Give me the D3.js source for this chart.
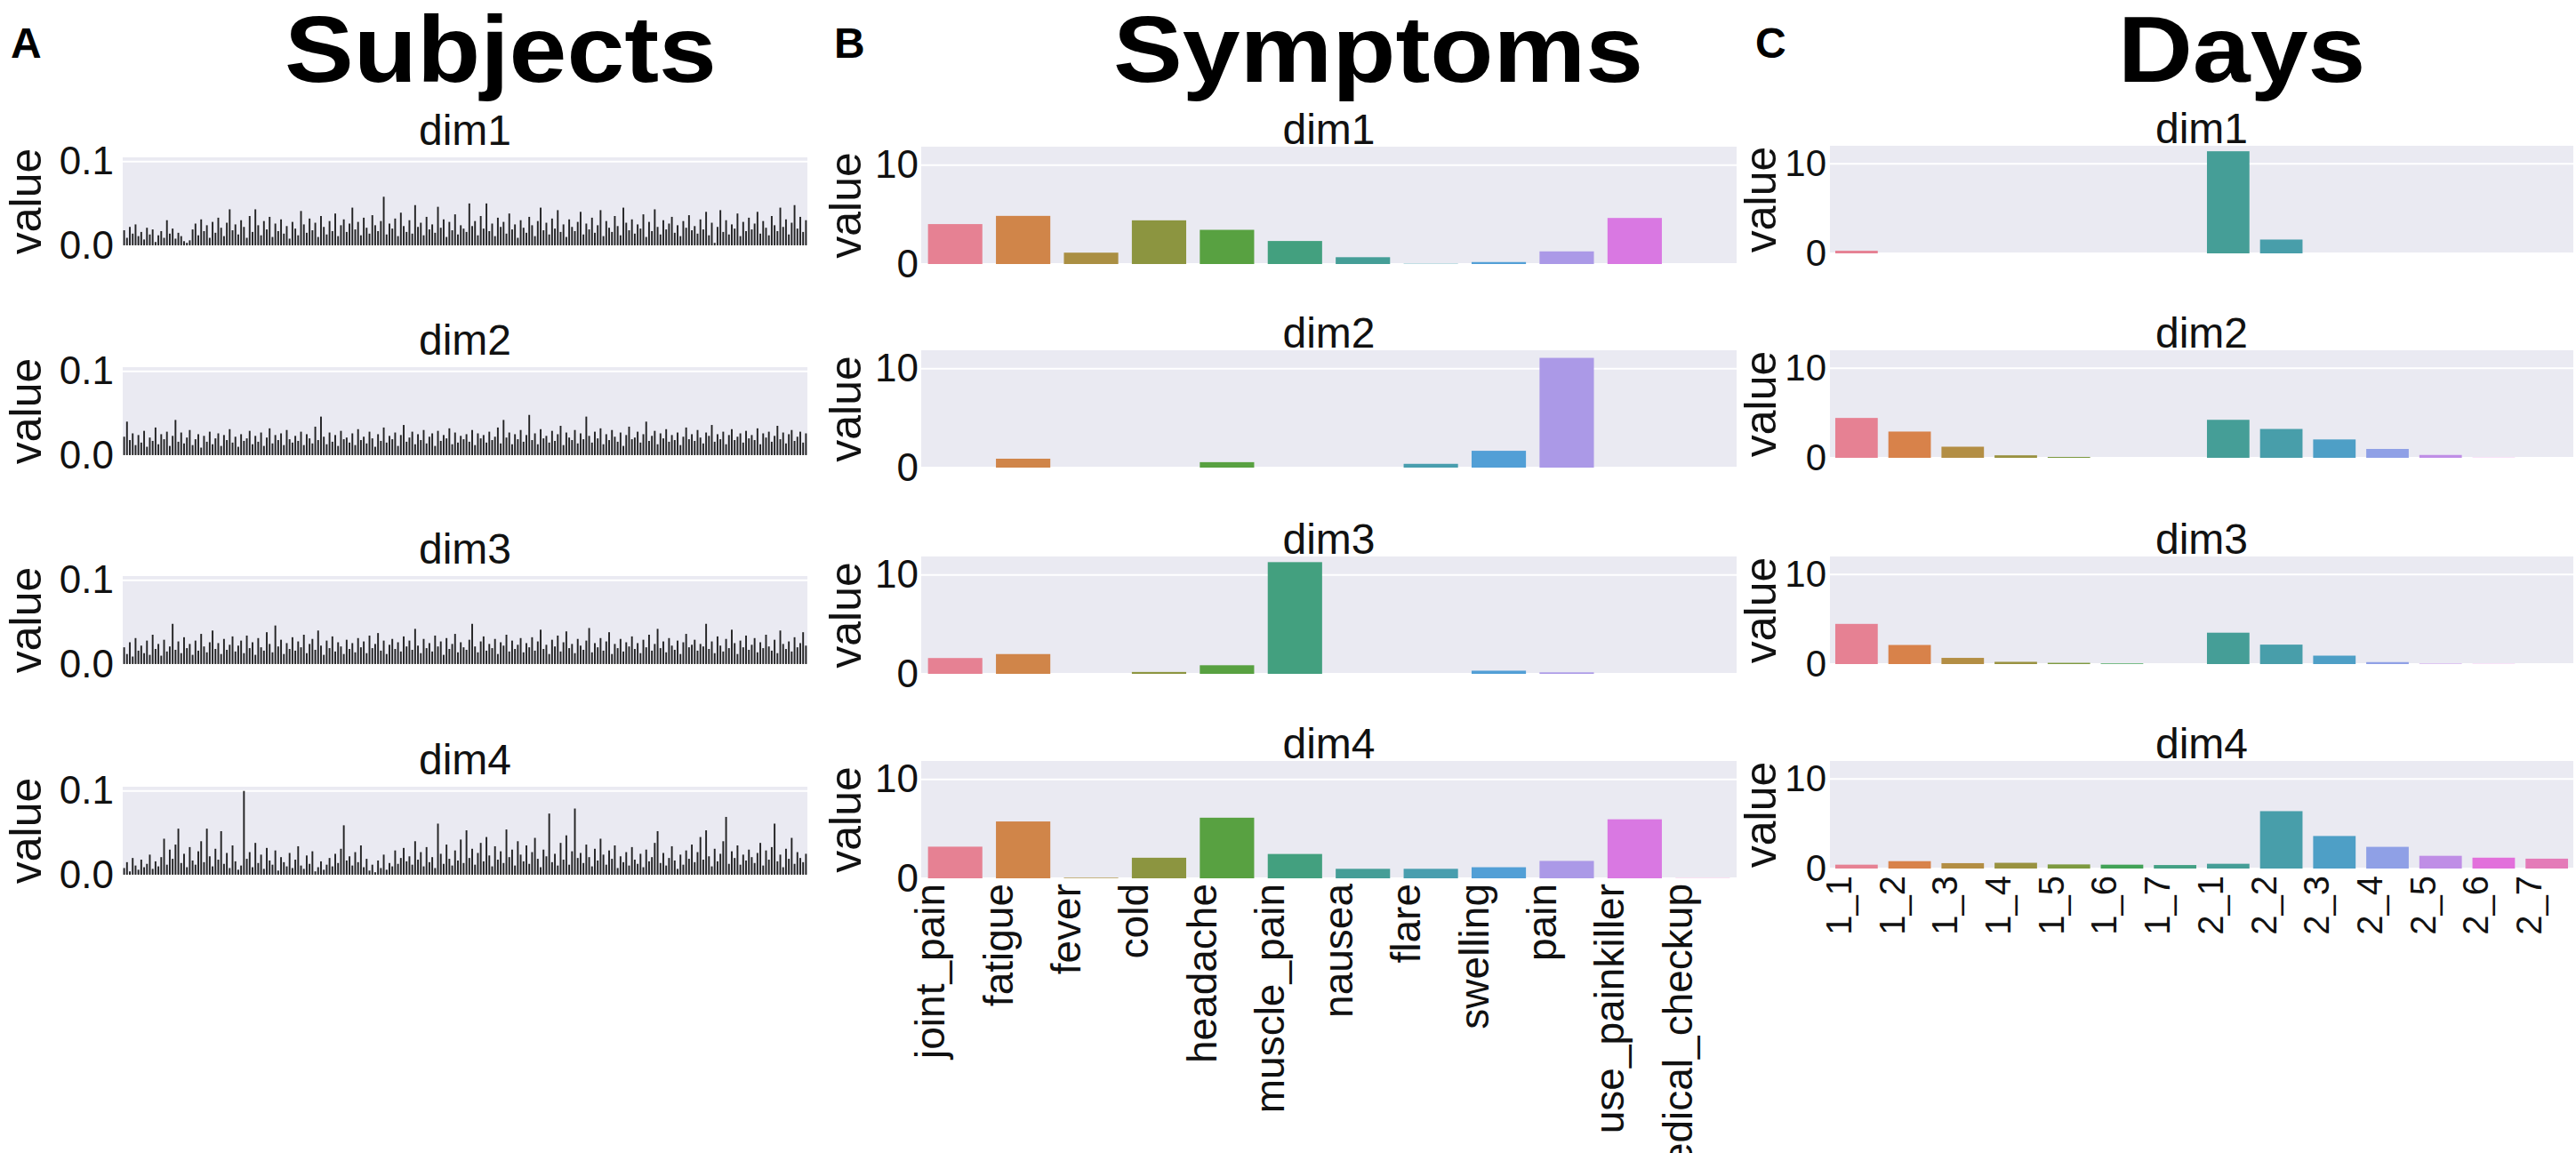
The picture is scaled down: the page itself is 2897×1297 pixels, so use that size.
<!DOCTYPE html>
<html>
<head>
<meta charset="utf-8">
<script src="https://cdn.jsdelivr.net/npm/d3@7"></script>
<style>
    body { margin: 0; background: #fff; }
    text { font-family: "Liberation Sans", Arial, sans-serif; fill: #111; }
</style>
</head>
<body>
<div id="chart"></div>
<script>
// ---- data ----
var dims = ["dim1", "dim2", "dim3", "dim4"];

// subjects (panel A): one value per subject
var subjDim1 = [
    .018,.009,.022,.014,.025,.011,.016,.007,.021,.013,.019,.004,.012,.017,.009,.030,.014,.020,.008,.015,
    .011,.005,.003,.006,.019,.026,.012,.031,.017,.024,.009,.028,.015,.033,.021,.011,.027,.043,.018,.025,
    .013,.030,.022,.009,.035,.016,.043,.024,.012,.029,.019,.034,.010,.026,.017,.031,.014,.023,.008,.028,
    .020,.012,.041,.025,.015,.032,.018,.027,.010,.035,.022,.013,.029,.017,.038,.011,.024,.031,.016,.026,
    .045,.019,.028,.012,.033,.021,.014,.036,.024,.017,.029,.058,.013,.026,.020,.032,.011,.039,.023,.016,
    .030,.014,.048,.022,.027,.012,.034,.019,.025,.015,.046,.021,.031,.010,.028,.018,.037,.013,.024,.020,
    .016,.050,.023,.029,.012,.035,.020,.050,.017,.026,.011,.033,.022,.028,.014,.038,.019,.025,.009,.030,
    .021,.015,.034,.024,.011,.029,.045,.018,.027,.013,.032,.020,.042,.016,.025,.010,.031,.022,.017,.028,
    .040,.013,.026,.019,.033,.015,.024,.042,.011,.029,.021,.016,.035,.023,.012,.045,.027,.018,.031,.014,
    .025,.020,.037,.010,.028,.017,.043,.022,.013,.030,.019,.026,.034,.015,.024,.011,.029,.021,.036,.018,
    .023,.014,.031,.019,.040,.012,.027,.003,.022,.042,.016,.030,.013,.025,.020,.038,.011,.028,.017,.033,
    .019,.026,.040,.014,.029,.021,.012,.035,.024,.017,.045,.022,.031,.013,.027,.048,.020,.034,.016,.030
];
var subjDim2 = [
    .022,.040,.018,.026,.012,.024,.015,.029,.010,.021,.017,.033,.013,.025,.019,.028,.011,.023,.042,.016,
    .027,.014,.021,.030,.012,.019,.025,.009,.023,.016,.028,.013,.020,.026,.011,.024,.018,.031,.015,.022,
    .010,.025,.017,.020,.029,.013,.023,.016,.027,.011,.021,.032,.014,.024,.018,.026,.012,.030,.019,.015,
    .023,.017,.028,.012,.025,.020,.014,.034,.018,.046,.022,.013,.027,.016,.024,.011,.029,.019,.021,.015,
    .026,.012,.031,.018,.022,.014,.028,.020,.010,.025,.017,.033,.015,.023,.019,.027,.011,.024,.036,.016,
    .021,.028,.013,.025,.018,.030,.014,.022,.026,.011,.029,.017,.024,.020,.032,.013,.027,.015,.023,.019,
    .025,.016,.030,.012,.026,.020,.024,.015,.028,.018,.022,.033,.014,.042,.021,.027,.013,.025,.019,.030,
    .016,.024,.048,.018,.026,.013,.031,.020,.023,.015,.029,.017,.025,.035,.012,.027,.021,.018,.030,.014,
    .026,.019,.046,.023,.015,.028,.020,.032,.013,.025,.018,.030,.022,.016,.027,.011,.024,.034,.019,.021,
    .028,.015,.025,.040,.017,.023,.029,.013,.026,.020,.031,.016,.024,.018,.027,.012,.022,.033,.019,.025,
    .017,.030,.021,.014,.027,.023,.036,.016,.025,.019,.028,.013,.024,.031,.018,.022,.026,.015,.029,.020,
    .024,.018,.032,.013,.026,.021,.028,.016,.023,.035,.019,.027,.014,.025,.030,.017,.022,.028,.015,.026
];
var subjDim3 = [
    .020,.012,.026,.009,.031,.016,.022,.013,.028,.011,.035,.018,.024,.010,.029,.015,.021,.048,.017,.027,
    .013,.032,.019,.024,.011,.028,.016,.036,.021,.014,.026,.040,.018,.025,.012,.030,.017,.023,.033,.015,
    .022,.028,.013,.034,.019,.026,.011,.031,.020,.016,.038,.024,.014,.046,.021,.029,.012,.025,.018,.032,
    .016,.027,.020,.035,.013,.024,.030,.017,.040,.022,.011,.028,.019,.033,.015,.026,.021,.012,.029,.018,
    .025,.014,.031,.020,.027,.013,.034,.019,.024,.037,.016,.028,.012,.023,.030,.018,.026,.015,.033,.021,
    .028,.017,.042,.022,.013,.030,.019,.025,.015,.034,.021,.027,.011,.031,.018,.024,.036,.014,.026,.020,
    .017,.029,.048,.021,.014,.027,.033,.016,.024,.019,.030,.012,.026,.022,.035,.015,.028,.018,.023,.031,
    .014,.025,.020,.032,.016,.027,.041,.018,.023,.012,.029,.021,.034,.015,.026,.039,.019,.024,.013,.030,
    .022,.017,.028,.043,.014,.025,.020,.031,.016,.027,.038,.012,.024,.019,.030,.015,.026,.021,.033,.018,
    .025,.013,.029,.020,.035,.016,.024,.042,.019,.027,.014,.031,.022,.017,.028,.012,.026,.036,.020,.023,
    .029,.016,.024,.021,.048,.018,.027,.013,.033,.022,.015,.030,.019,.041,.025,.012,.028,.020,.034,.017,
    .023,.031,.014,.026,.019,.035,.021,.016,.029,.013,.040,.024,.018,.027,.015,.032,.020,.025,.038,.022
];
var subjDim4 = [
    .008,.015,.004,.020,.011,.006,.018,.009,.013,.024,.007,.016,.010,.021,.043,.012,.030,.019,.036,.055,
    .014,.025,.009,.033,.017,.012,.028,.040,.015,.055,.022,.010,.031,.018,.052,.013,.026,.008,.035,.016,
    .006,.011,.100,.019,.027,.009,.038,.014,.024,.007,.032,.017,.012,.029,.005,.021,.015,.010,.026,.008,
    .018,.034,.011,.007,.023,.013,.028,.004,.009,.016,.006,.012,.020,.010,.025,.014,.031,.059,.017,.022,
    .011,.027,.015,.035,.009,.019,.005,.012,.003,.017,.008,.024,.006,.014,.010,.029,.013,.020,.032,.016,
    .022,.012,.040,.018,.027,.010,.033,.015,.021,.008,.061,.025,.013,.036,.019,.011,.029,.017,.042,.014,
    .053,.020,.031,.012,.026,.038,.016,.045,.023,.010,.034,.018,.028,.014,.054,.021,.030,.011,.040,.024,
    .016,.035,.013,.027,.044,.019,.009,.030,.022,.073,.015,.025,.011,.038,.018,.047,.012,.028,.079,.020,
    .026,.014,.036,.021,.010,.031,.017,.043,.024,.012,.029,.019,.035,.008,.022,.015,.027,.011,.033,.018,
    .013,.025,.009,.030,.016,.021,.038,.052,.014,.026,.011,.020,.034,.017,.007,.024,.012,.029,.019,.036,
    .015,.027,.045,.018,.053,.022,.010,.031,.016,.025,.040,.069,.013,.028,.020,.035,.012,.024,.017,.030,
    .021,.014,.026,.038,.011,.029,.018,.033,.061,.016,.024,.009,.031,.019,.044,.013,.027,.020,.015,.025
];
var subjects = subjDim1.map(function (d, i) { return "s" + (i + 1); });

// symptoms (panel B)
var symptoms = ["joint_pain", "fatigue", "fever", "cold", "headache", "muscle_pain",
                "nausea", "flare", "swelling", "pain", "use_painkiller", "medical_checkup"];
var sympDim1 = [4.04, 4.87, 1.15, 4.42, 3.46, 2.33, 0.69, 0.03, 0.20, 1.28, 4.66, 0.00];
var sympDim2 = [0.00, 0.90, 0.00, 0.00, 0.55, 0.00, 0.00, 0.38, 1.70, 11.10, 0.00, 0.00];
var sympDim3 = [1.60, 2.00, 0.00, 0.19, 0.87, 11.30, 0.00, 0.00, 0.32, 0.15, 0.00, 0.00];
var sympDim4 = [3.20, 5.75, 0.06, 2.08, 6.13, 2.46, 0.96, 0.96, 1.12, 1.76, 5.97, 0.02];

// days (panel C)
var days = ["1_1", "1_2", "1_3", "1_4", "1_5", "1_6", "1_7",
            "2_1", "2_2", "2_3", "2_4", "2_5", "2_6", "2_7"];
var dayDim1 = [0.29, 0, 0, 0, 0, 0, 0, 11.39, 1.54, 0, 0, 0, 0, 0];
var dayDim2 = [4.45, 2.93, 1.24, 0.28, 0.10, 0, 0, 4.24, 3.22, 2.05, 0.99, 0.32, 0.02, 0];
var dayDim3 = [4.48, 2.13, 0.69, 0.25, 0.14, 0.07, 0, 3.50, 2.17, 0.94, 0.22, 0.05, 0.02, 0];
var dayDim4 = [0.43, 0.82, 0.60, 0.64, 0.46, 0.43, 0.39, 0.53, 6.40, 3.63, 2.42, 1.42, 1.21, 1.10];

var subjTicks = [0, 0.1];
var countTicks = [0, 10];

// ---- seaborn "husl" palette, desaturated like barplot does ----
var M = [[3.2406, -1.5372, -0.4986], [-0.9689, 1.8758, 0.0415], [0.0557, -0.2040, 1.0570]];
var refU = 0.19784, refV = 0.46834;

function maxChroma(L, H)
{
    var hrad = H / 180 * Math.PI;
    var sinH = Math.sin(hrad), cosH = Math.cos(hrad);
    var sub1 = Math.pow(L + 16, 3) / 1560896;
    var sub2 = sub1 > 0.008856 ? sub1 : L / 903.3;
    var result = Infinity;
    M.forEach(function (row) {
        var top = (0.99915 * row[0] + 1.05122 * row[1] + 1.14460 * row[2]) * sub2;
        var rbottom = 0.86330 * row[2] - 0.17266 * row[1];
        var lbottom = 0.12949 * row[2] - 0.38848 * row[0];
        var bottom = (rbottom * sinH + lbottom * cosH) * sub2;
        [0, 1].forEach(function (t) {
            var C = L * (top - 1.05122 * t) / (bottom + 0.17266 * sinH * t);
            if (C > 0 && C < result) result = C;
        });
    });
    return result;
}

function huslToRgb(h, s, l)
{
    var C = maxChroma(l, h) / 100 * s;
    var hrad = h / 180 * Math.PI;
    var U = Math.cos(hrad) * C, V = Math.sin(hrad) * C;
    var t = (l + 16) / 116;
    var Y = Math.pow(t, 3) > 0.008856 ? Math.pow(t, 3) : (116 * t - 16) / 903.3;
    var varU = U / (13 * l) + refU;
    var varV = V / (13 * l) + refV;
    var X = 0 - (9 * Y * varU) / ((varU - 4) * varV - varU * varV);
    var Z = (9 * Y - 15 * varV * Y - varV * X) / (3 * varV);
    return M.map(function (r) {
        var c = r[0] * X + r[1] * Y + r[2] * Z;
        c = c <= 0.0031308 ? 12.92 * c : 1.055 * Math.pow(c, 1 / 2.4) - 0.055;
        return Math.max(0, Math.min(1, c)) * 255;
    });
}

function huslPalette(n)
{
    var out = [];
    for (var i = 0; i < n; i++) {
        var h = ((i / n + 0.01) % 1) * 359;
        var rgb = huslToRgb(h, 0.9 * 99, 0.65 * 99);
        var c = d3.hsl(d3.rgb(rgb[0], rgb[1], rgb[2]));
        c.s *= 0.75;
        out.push(c.formatHex());
    }
    return out;
}

// ---- layout of the three panels ----
var panelA = {
    categories: subjects, series: [subjDim1, subjDim2, subjDim3, subjDim4],
    left: 138, right: 908, tops: [177, 413, 648, 885], height: 99, yMax: 0.105,
    ticks: subjTicks, fmt: d3.format(".1f"), tickPad: 10, tickSize: 44,
    valueX: 46, titleGap: 14, barPad: 0.4, color: function () { return "#000"; }, opacity: 0.85
};
var panelB = {
    categories: symptoms, series: [sympDim1, sympDim2, sympDim3, sympDim4],
    left: 1036, right: 1953, tops: [165, 394, 626, 856], height: 132, yMax: 11.87,
    ticks: countTicks, fmt: d3.format("d"), tickPad: 3, tickSize: 44,
    valueX: 968, titleGap: 3, barPad: 0.2, palette: huslPalette(symptoms.length), opacity: 1,
    xLabels: true, xLabelSize: 46, xLabelPad: 6, xLabelShift: -12
};
var panelC = {
    categories: days, series: [dayDim1, dayDim2, dayDim3, dayDim4],
    left: 2058, right: 2894, tops: [164, 394, 626, 856], height: 121, yMax: 12.0,
    ticks: countTicks, fmt: d3.format("d"), tickPad: 4, tickSize: 42,
    valueX: 1997, titleGap: 3, barPad: 0.2, palette: huslPalette(days.length), opacity: 1,
    xLabels: true, xLabelSize: 40, xLabelPad: 8, xLabelShift: -6
};

var svg = d3.select("#chart")
    .append("svg")
    .attr("width", 2897)
    .attr("height", 1297);

function drawPanel(p)
{
    var xScale = d3.scaleBand()
        .domain(p.categories)
        .range([p.left, p.right])
        .paddingInner(p.barPad)
        .paddingOuter(p.barPad / 2);

    p.series.forEach(function (values, row) {
        var top = p.tops[row];
        var base = top + p.height;
        var yScale = d3.scaleLinear()
            .domain([0, p.yMax])
            .range([base, top]);

        var g = svg.append("g");

        //background
        g.append("rect")
            .attr("x", p.left)
            .attr("y", top)
            .attr("width", p.right - p.left)
            .attr("height", p.height)
            .attr("fill", "#eaeaf2");

        //grid lines
        g.selectAll(".grid")
            .data(p.ticks)
            .enter()
            .append("line")
            .attr("x1", p.left)
            .attr("x2", p.right)
            .attr("y1", function (d) { return yScale(d); })
            .attr("y2", function (d) { return yScale(d); })
            .attr("stroke", "#fff")
            .attr("stroke-width", 2);

        //bars
        g.selectAll(".bar")
            .data(values)
            .enter()
            .append("rect")
            .attr("x", function (d, i) { return xScale(p.categories[i]); })
            .attr("y", function (d) { return yScale(d); })
            .attr("width", xScale.bandwidth())
            .attr("height", function (d) { return yScale(0) - yScale(d); })
            .attr("fill", function (d, i) { return p.palette ? p.palette[i] : p.color(); })
            .attr("fill-opacity", p.opacity);

        //y axis
        var yAxis = g.append("g")
            .attr("transform", "translate(" + p.left + ",0)")
            .call(d3.axisLeft(yScale).tickValues(p.ticks).tickFormat(p.fmt).tickSize(0).tickPadding(p.tickPad));
        yAxis.select(".domain").remove();
        yAxis.selectAll("text")
            .style("font-size", p.tickSize + "px");

        //y label
        g.append("text")
            .attr("transform", "translate(" + p.valueX + "," + (top + p.height / 2) + ") rotate(-90)")
            .attr("text-anchor", "middle")
            .style("font-size", "50px")
            .text("value");

        //subplot title
        g.append("text")
            .attr("x", (p.left + p.right) / 2)
            .attr("y", top - p.titleGap)
            .attr("text-anchor", "middle")
            .style("font-size", "48px")
            .text(dims[row]);

        //category labels under the last row
        if (p.xLabels && row == p.series.length - 1) {
            var xAxis = g.append("g")
                .attr("transform", "translate(0," + base + ")")
                .call(d3.axisBottom(xScale).tickSize(0));
            xAxis.select(".domain").remove();
            xAxis.selectAll("text")
                .attr("transform", "rotate(-90)")
                .attr("x", -p.xLabelPad)
                .attr("y", p.xLabelShift)
                .attr("dy", 0)
                .style("text-anchor", "end")
                .style("font-size", p.xLabelSize + "px");
        }
    });
}

drawPanel(panelA);
drawPanel(panelB);
drawPanel(panelC);

//panel headings
var headings = [
    { letter: "A", lx: 12, title: "Subjects", cx: 563 },
    { letter: "B", lx: 938, title: "Symptoms", cx: 1550 },
    { letter: "C", lx: 1974, title: "Days", cx: 2521 }
];

svg.selectAll(".letter")
    .data(headings)
    .enter()
    .append("text")
    .attr("x", function (d) { return d.lx; })
    .attr("y", 65)
    .attr("font-weight", 700)
    .style("font-size", "48px")
    .style("fill", "#000")
    .text(function (d) { return d.letter; });

svg.selectAll(".heading")
    .data(headings)
    .enter()
    .append("text")
    .attr("transform", function (d) { return "translate(" + d.cx + ",92) scale(1.1,1)"; })
    .attr("text-anchor", "middle")
    .attr("font-weight", 700)
    .style("font-size", "106px")
    .style("fill", "#000")
    .text(function (d) { return d.title; });
</script>
</body>
</html>
